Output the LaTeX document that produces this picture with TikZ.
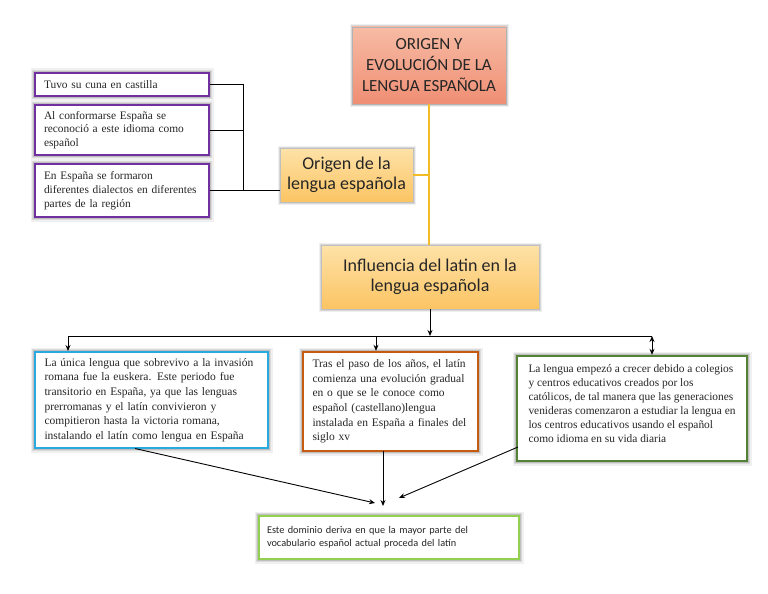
\documentclass[tikz,border=0pt]{standalone}
\usepackage{fontspec}
\setmainfont{Liberation Serif}
\newfontfamily\calfont{Carlito}
\usetikzlibrary{arrows.meta}
\definecolor{salmonT}{HTML}{F7BBA4}
\definecolor{salmonB}{HTML}{EF8E74}
\definecolor{peachT}{HTML}{FEE2A8}
\definecolor{peachB}{HTML}{FBC463}
\definecolor{goldline}{RGB}{242,188,40}
\definecolor{purp}{HTML}{7030A0}
\definecolor{bluebd}{HTML}{2AA8E0}
\definecolor{orbd}{HTML}{C55A11}
\definecolor{grbd}{HTML}{548235}
\definecolor{lgbd}{HTML}{92D050}
\definecolor{txt}{HTML}{262626}
\tikzset{
  x=1pt,y=-1pt,
  shad/.style={preaction={draw=black,opacity=0.06,line width=9pt},
               preaction={draw=black,opacity=0.09,line width=6pt},
               preaction={draw=black,opacity=0.12,line width=3.5pt}},
  lshad/.style={preaction={draw=black,opacity=0.06,line width=5pt},
               preaction={draw=black,opacity=0.10,line width=3pt}},
  titlebox/.style={lshad,draw=black!30,line width=0.6pt,top color=salmonT,bottom color=salmonB,
    font=\calfont\fontsize{17}{21}\selectfont,text=txt,align=center,inner sep=2pt},
  peachbox/.style={lshad,draw=black!25,line width=0.6pt,top color=peachT,bottom color=peachB,
    font=\calfont\fontsize{18}{20}\selectfont,text=txt,align=center,inner sep=2pt},
  purpbox/.style={shad,draw=purp,line width=2pt,fill=white,align=left,inner sep=0pt,
    font=\fontsize{11.4}{13.8}\selectfont,text=txt},
  tbox/.style={shad,fill=white,align=left,inner sep=0pt,font=\fontsize{11.5}{14.6}\selectfont,text=txt},
  conn/.style={line width=0.9pt,black},
  arr/.style={conn,-{Stealth[length=6pt,width=5pt]}},
  yline/.style={line width=1.2pt,color=goldline}
}
\begin{document}
\begin{tikzpicture}
\useasboundingbox (0,0) rectangle (768,594);
\fill[white] (0,0) rectangle (768,594);
% top
\node[titlebox,minimum width=154pt,minimum height=77pt] (title) at (429,65.5)
  {ORIGEN Y\\EVOLUCIÓN DE LA\\LENGUA ESPAÑOLA};
\node[peachbox,minimum width=133pt,minimum height=54pt] (origen) at (346.5,175)
  {Origen de la\\lengua española};
\node[peachbox,minimum width=218pt,minimum height=64pt] (infl) at (430,277)
  {Influencia del latin en la\\lengua española};
% purple boxes
\node[purpbox,minimum width=174pt,minimum height=23pt,text width=156pt] (p1) at (122,84.5)
  {Tuvo su cuna en castilla};
\node[purpbox,minimum width=174pt,minimum height=50pt,text width=156pt] (p2) at (122,130)
  {Al conformarse España se\\reconoció a este idioma como\\español};
\node[purpbox,minimum width=174pt,minimum height=53pt,text width=156pt] (p3) at (122,190.5)
  {En España se formaron\\diferentes dialectos en diferentes\\partes de la región};
% text boxes
\node[tbox,draw=bluebd,line width=2pt,minimum width=233pt,minimum height=96pt,text width=214pt] (blue) at (151.5,400)
  {La única lengua que sobrevivo a la invasión\\romana fue la euskera. Este periodo fue\\transitorio en España, ya que las lenguas\\prerromanas y el latín convivieron y\\compitieron hasta la victoria romana,\\instalando el latín como lengua en España};
\node[tbox,draw=orbd,line width=2.4pt,minimum width=175pt,minimum height=99pt,text width=156pt] (orange) at (390.5,401.5)
  {Tras el paso de los años, el latín\\comienza una evolución gradual\\en o que se le conoce como\\español (castellano)lengua\\instalada en España a finales del\\siglo xv};
\node[tbox,draw=grbd,line width=2.4pt,minimum width=230pt,minimum height=105pt,
  font=\fontsize{11.4}{14}\selectfont] (green) at (632,408.5)
  {La lengua empezó a crecer debido a colegios\\y centros educativos creados por los\\católicos, de tal manera que las generaciones\\venideras comenzaron a estudiar la lengua en\\los centros educativos usando el español\\como idioma en su vida diaria\\[-4pt]\mbox{}};
\node[tbox,draw=lgbd,line width=2.4pt,minimum width=260pt,minimum height=43pt,text width=244pt,
  font=\calfont\fontsize{10.3}{13}\selectfont] (bottom) at (389,537.5)
  {Este dominio deriva en que la mayor parte del\\vocabulario español actual proceda del latín};
% yellow connectors
\draw[yline] (title.south) -- (title.south |- infl.north);
\draw[yline] (origen.east) -- (origen.east -| title.south);
% purple connectors
\coordinate (bx) at (243,0);
\draw[conn] (p1.east) -- (p1.east -| bx) -- (p3.east -| bx);
\draw[conn] (p2.east) -- (p2.east -| bx);
\draw[conn] (p3.east) -- (p3.east -| origen.west);
% distribution bus
\coordinate (hb) at (0,336);
\coordinate (bl) at (68,336);
\coordinate (bo) at (376,336);
\coordinate (bg) at (652,336);
\draw[arr] (infl.south) -- (infl.south |- hb);
\draw[conn] (bl) -- (bg);
\draw[arr] (bl) -- (bl |- blue.north);
\draw[arr] (bo) -- (bo |- orange.north);
\draw[conn,{Stealth[length=6pt,width=5pt]}-{Stealth[length=6pt,width=5pt]}] (bg) -- (bg |- green.north);
% converging arrows
\coordinate (sb) at (135,448.5);
\coordinate (so) at (383,451);
\coordinate (sg) at (518,447);
\coordinate (eb) at (375,503);
\coordinate (eo) at (383,506);
\coordinate (eg) at (399,498);
\draw[arr] (sb) -- (eb);
\draw[arr] (so) -- (eo);
\draw[arr] (sg) -- (eg);
\end{tikzpicture}
\end{document}
